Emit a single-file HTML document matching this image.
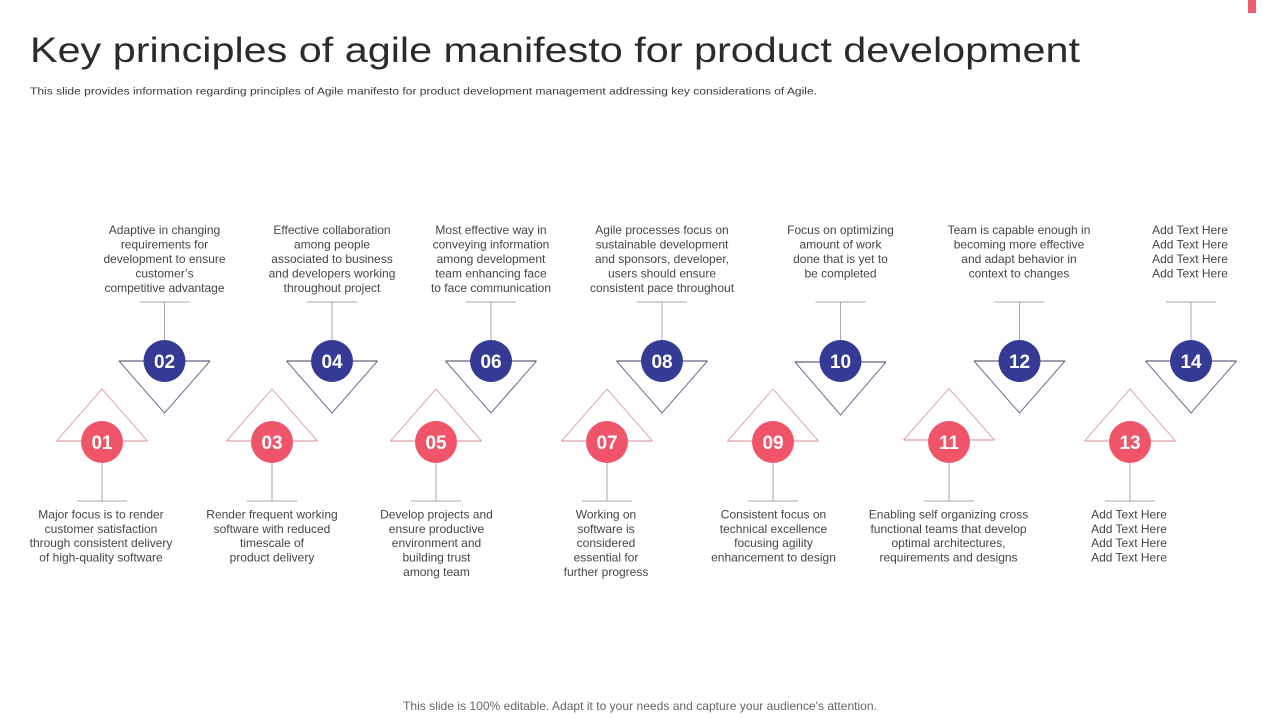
<!DOCTYPE html>
<html>
<head>
<meta charset="utf-8">
<style>
  html, body { margin:0; padding:0; background:#fff; }
  svg { display:block; }
  text { font-family: "Liberation Sans", Arial, sans-serif; }
  .t { font-size:12px; fill:#454545; text-anchor:middle; }
  .n { font-size:19px; font-weight:bold; fill:#fff; text-anchor:middle; }
</style>
</head>
<body>
<svg width="1280" height="720" viewBox="0 0 1280 720" xmlns="http://www.w3.org/2000/svg">
  <rect x="0" y="0" width="1280" height="720" fill="#fff"/>
  <rect x="1248" y="0" width="8" height="13" fill="#EF5C70"/>

  <text x="30" y="62" font-size="35" fill="#2b2b2b" textLength="1050" lengthAdjust="spacingAndGlyphs">Key principles of agile manifesto for product development</text>
  <text x="30" y="94.5" font-size="10.5" fill="#3a3a3a" textLength="787" lengthAdjust="spacingAndGlyphs">This slide provides information regarding principles of Agile manifesto for product development management addressing key considerations of Agile.</text>

  <text x="640" y="710" font-size="12" fill="#666" text-anchor="middle" textLength="474" lengthAdjust="spacingAndGlyphs">This slide is 100% editable. Adapt it to your needs and capture your audience's attention.</text>

  <!-- Up (pink) items -->
  <g id="ups">
    <g transform="translate(102,0)">
      <polyline points="-45.5,441 0,389 45.5,441" fill="none" stroke="#E4A6AE" stroke-width="1"/>
      <line x1="-45.5" y1="441" x2="45.5" y2="441" stroke="#D88892" stroke-width="1"/>
      <line x1="0" y1="463" x2="0" y2="501" stroke="#aaa"/>
      <line x1="-25" y1="501" x2="25" y2="501" stroke="#aaa"/>
      <circle cx="0" cy="442" r="21" fill="#EF5468"/>
      <text class="n" x="0" y="449">01</text>
    </g>
    <g transform="translate(272,0)">
      <polyline points="-45.5,441 0,389 45.5,441" fill="none" stroke="#E4A6AE" stroke-width="1"/>
      <line x1="-45.5" y1="441" x2="45.5" y2="441" stroke="#D88892" stroke-width="1"/>
      <line x1="0" y1="463" x2="0" y2="501" stroke="#aaa"/>
      <line x1="-25" y1="501" x2="25" y2="501" stroke="#aaa"/>
      <circle cx="0" cy="442" r="21" fill="#EF5468"/>
      <text class="n" x="0" y="449">03</text>
    </g>
    <g transform="translate(436,0)">
      <polyline points="-45.5,441 0,389 45.5,441" fill="none" stroke="#E4A6AE" stroke-width="1"/>
      <line x1="-45.5" y1="441" x2="45.5" y2="441" stroke="#D88892" stroke-width="1"/>
      <line x1="0" y1="463" x2="0" y2="501" stroke="#aaa"/>
      <line x1="-25" y1="501" x2="25" y2="501" stroke="#aaa"/>
      <circle cx="0" cy="442" r="21" fill="#EF5468"/>
      <text class="n" x="0" y="449">05</text>
    </g>
    <g transform="translate(607,0)">
      <polyline points="-45.5,441 0,389 45.5,441" fill="none" stroke="#E4A6AE" stroke-width="1"/>
      <line x1="-45.5" y1="441" x2="45.5" y2="441" stroke="#D88892" stroke-width="1"/>
      <line x1="0" y1="463" x2="0" y2="501" stroke="#aaa"/>
      <line x1="-25" y1="501" x2="25" y2="501" stroke="#aaa"/>
      <circle cx="0" cy="442" r="21" fill="#EF5468"/>
      <text class="n" x="0" y="449">07</text>
    </g>
    <g transform="translate(773,0)">
      <polyline points="-45.5,441 0,389 45.5,441" fill="none" stroke="#E4A6AE" stroke-width="1"/>
      <line x1="-45.5" y1="441" x2="45.5" y2="441" stroke="#D88892" stroke-width="1"/>
      <line x1="0" y1="463" x2="0" y2="501" stroke="#aaa"/>
      <line x1="-25" y1="501" x2="25" y2="501" stroke="#aaa"/>
      <circle cx="0" cy="442" r="21" fill="#EF5468"/>
      <text class="n" x="0" y="449">09</text>
    </g>
    <g transform="translate(949,0)">
      <polyline points="-45.5,440 0,388.5 45.5,440" fill="none" stroke="#E4A6AE" stroke-width="1"/>
      <line x1="-45.5" y1="440" x2="45.5" y2="440" stroke="#D88892" stroke-width="1"/>
      <line x1="0" y1="463" x2="0" y2="501" stroke="#aaa"/>
      <line x1="-25" y1="501" x2="25" y2="501" stroke="#aaa"/>
      <circle cx="0" cy="442" r="21" fill="#EF5468"/>
      <text class="n" x="0" y="449">11</text>
    </g>
    <g transform="translate(1130,0)">
      <polyline points="-45.5,441 0,389 45.5,441" fill="none" stroke="#E4A6AE" stroke-width="1"/>
      <line x1="-45.5" y1="441" x2="45.5" y2="441" stroke="#D88892" stroke-width="1"/>
      <line x1="0" y1="463" x2="0" y2="501" stroke="#aaa"/>
      <line x1="-25" y1="501" x2="25" y2="501" stroke="#aaa"/>
      <circle cx="0" cy="442" r="21" fill="#EF5468"/>
      <text class="n" x="0" y="449">13</text>
    </g>
  </g>

  <!-- Down (navy) items -->
  <g id="downs">
    <g transform="translate(164.5,0)">
      <polyline points="-45.5,361 0,413 45.5,361" fill="none" stroke="#6B6E8E" stroke-width="1"/>
      <line x1="-45.5" y1="361" x2="45.5" y2="361" stroke="#3A3D5C" stroke-width="1"/>
      <line x1="0" y1="302" x2="0" y2="340" stroke="#aaa"/>
      <line x1="-25" y1="302" x2="25" y2="302" stroke="#aaa"/>
      <circle cx="0" cy="361" r="21" fill="#353A94"/>
      <text class="n" x="0" y="368">02</text>
    </g>
    <g transform="translate(332,0)">
      <polyline points="-45.5,361 0,413 45.5,361" fill="none" stroke="#6B6E8E" stroke-width="1"/>
      <line x1="-45.5" y1="361" x2="45.5" y2="361" stroke="#3A3D5C" stroke-width="1"/>
      <line x1="0" y1="302" x2="0" y2="340" stroke="#aaa"/>
      <line x1="-25" y1="302" x2="25" y2="302" stroke="#aaa"/>
      <circle cx="0" cy="361" r="21" fill="#353A94"/>
      <text class="n" x="0" y="368">04</text>
    </g>
    <g transform="translate(491,0)">
      <polyline points="-45.5,361 0,413 45.5,361" fill="none" stroke="#6B6E8E" stroke-width="1"/>
      <line x1="-45.5" y1="361" x2="45.5" y2="361" stroke="#3A3D5C" stroke-width="1"/>
      <line x1="0" y1="302" x2="0" y2="340" stroke="#aaa"/>
      <line x1="-25" y1="302" x2="25" y2="302" stroke="#aaa"/>
      <circle cx="0" cy="361" r="21" fill="#353A94"/>
      <text class="n" x="0" y="368">06</text>
    </g>
    <g transform="translate(662,0)">
      <polyline points="-45.5,361 0,413 45.5,361" fill="none" stroke="#6B6E8E" stroke-width="1"/>
      <line x1="-45.5" y1="361" x2="45.5" y2="361" stroke="#3A3D5C" stroke-width="1"/>
      <line x1="0" y1="302" x2="0" y2="340" stroke="#aaa"/>
      <line x1="-25" y1="302" x2="25" y2="302" stroke="#aaa"/>
      <circle cx="0" cy="361" r="21" fill="#353A94"/>
      <text class="n" x="0" y="368">08</text>
    </g>
    <g transform="translate(840.5,0)">
      <polyline points="-45.5,362 0,415 45.5,362" fill="none" stroke="#6B6E8E" stroke-width="1"/>
      <line x1="-45.5" y1="362" x2="45.5" y2="362" stroke="#3A3D5C" stroke-width="1"/>
      <line x1="0" y1="302" x2="0" y2="340" stroke="#aaa"/>
      <line x1="-25" y1="302" x2="25" y2="302" stroke="#aaa"/>
      <circle cx="0" cy="361" r="21" fill="#353A94"/>
      <text class="n" x="0" y="368">10</text>
    </g>
    <g transform="translate(1019.5,0)">
      <polyline points="-45.5,361 0,413 45.5,361" fill="none" stroke="#6B6E8E" stroke-width="1"/>
      <line x1="-45.5" y1="361" x2="45.5" y2="361" stroke="#3A3D5C" stroke-width="1"/>
      <line x1="0" y1="302" x2="0" y2="340" stroke="#aaa"/>
      <line x1="-25" y1="302" x2="25" y2="302" stroke="#aaa"/>
      <circle cx="0" cy="361" r="21" fill="#353A94"/>
      <text class="n" x="0" y="368">12</text>
    </g>
    <g transform="translate(1191,0)">
      <polyline points="-45.5,361 0,413 45.5,361" fill="none" stroke="#6B6E8E" stroke-width="1"/>
      <line x1="-45.5" y1="361" x2="45.5" y2="361" stroke="#3A3D5C" stroke-width="1"/>
      <line x1="0" y1="302" x2="0" y2="340" stroke="#aaa"/>
      <line x1="-25" y1="302" x2="25" y2="302" stroke="#aaa"/>
      <circle cx="0" cy="361" r="21" fill="#353A94"/>
      <text class="n" x="0" y="368">14</text>
    </g>
  </g>

  <!-- Top texts -->
  <text class="t"><tspan x="164.5" y="234">Adaptive in changing</tspan><tspan x="164.5" y="248.5">requirements for</tspan><tspan x="164.5" y="263">development to ensure</tspan><tspan x="164.5" y="277.5">customer’s</tspan><tspan x="164.5" y="292">competitive advantage</tspan></text>
  <text class="t"><tspan x="332" y="234">Effective collaboration</tspan><tspan x="332" y="248.5">among people</tspan><tspan x="332" y="263">associated to business</tspan><tspan x="332" y="277.5">and developers working</tspan><tspan x="332" y="292">throughout project</tspan></text>
  <text class="t"><tspan x="491" y="234">Most effective way in</tspan><tspan x="491" y="248.5">conveying information</tspan><tspan x="491" y="263">among development</tspan><tspan x="491" y="277.5">team enhancing face</tspan><tspan x="491" y="292">to face communication</tspan></text>
  <text class="t"><tspan x="662" y="234">Agile processes focus on</tspan><tspan x="662" y="248.5">sustainable development</tspan><tspan x="662" y="263">and sponsors, developer,</tspan><tspan x="662" y="277.5">users should ensure</tspan><tspan x="662" y="292">consistent pace throughout</tspan></text>
  <text class="t"><tspan x="840.5" y="234">Focus on optimizing</tspan><tspan x="840.5" y="248.5">amount of work</tspan><tspan x="840.5" y="263">done that is yet to</tspan><tspan x="840.5" y="277.5">be completed</tspan></text>
  <text class="t"><tspan x="1019" y="234">Team is capable enough in</tspan><tspan x="1019" y="248.5">becoming more effective</tspan><tspan x="1019" y="263">and adapt behavior in</tspan><tspan x="1019" y="277.5">context to changes</tspan></text>
  <text class="t"><tspan x="1190" y="234">Add Text Here</tspan><tspan x="1190" y="248.5">Add Text Here</tspan><tspan x="1190" y="263">Add Text Here</tspan><tspan x="1190" y="277.5">Add Text Here</tspan></text>

  <!-- Bottom texts -->
  <text class="t"><tspan x="101" y="518.5">Major focus is to render</tspan><tspan x="101" y="533">customer satisfaction</tspan><tspan x="101" y="547">through consistent delivery</tspan><tspan x="101" y="561.5">of high-quality software</tspan></text>
  <text class="t"><tspan x="272" y="518.5">Render frequent working</tspan><tspan x="272" y="533">software with reduced</tspan><tspan x="272" y="547">timescale of</tspan><tspan x="272" y="561.5">product delivery</tspan></text>
  <text class="t"><tspan x="436.5" y="518.5">Develop projects and</tspan><tspan x="436.5" y="533">ensure productive</tspan><tspan x="436.5" y="547">environment and</tspan><tspan x="436.5" y="561.5">building trust</tspan><tspan x="436.5" y="576">among team</tspan></text>
  <text class="t"><tspan x="606" y="518.5">Working on</tspan><tspan x="606" y="533">software is</tspan><tspan x="606" y="547">considered</tspan><tspan x="606" y="561.5">essential for</tspan><tspan x="606" y="576">further progress</tspan></text>
  <text class="t"><tspan x="773.5" y="518.5">Consistent focus on</tspan><tspan x="773.5" y="533">technical excellence</tspan><tspan x="773.5" y="547">focusing agility</tspan><tspan x="773.5" y="561.5">enhancement to design</tspan></text>
  <text class="t"><tspan x="948.5" y="518.5">Enabling self organizing cross</tspan><tspan x="948.5" y="533">functional teams that develop</tspan><tspan x="948.5" y="547">optimal architectures,</tspan><tspan x="948.5" y="561.5">requirements and designs</tspan></text>
  <text class="t"><tspan x="1129" y="518.5">Add Text Here</tspan><tspan x="1129" y="533">Add Text Here</tspan><tspan x="1129" y="547">Add Text Here</tspan><tspan x="1129" y="561.5">Add Text Here</tspan></text>
</svg>
</body>
</html>
